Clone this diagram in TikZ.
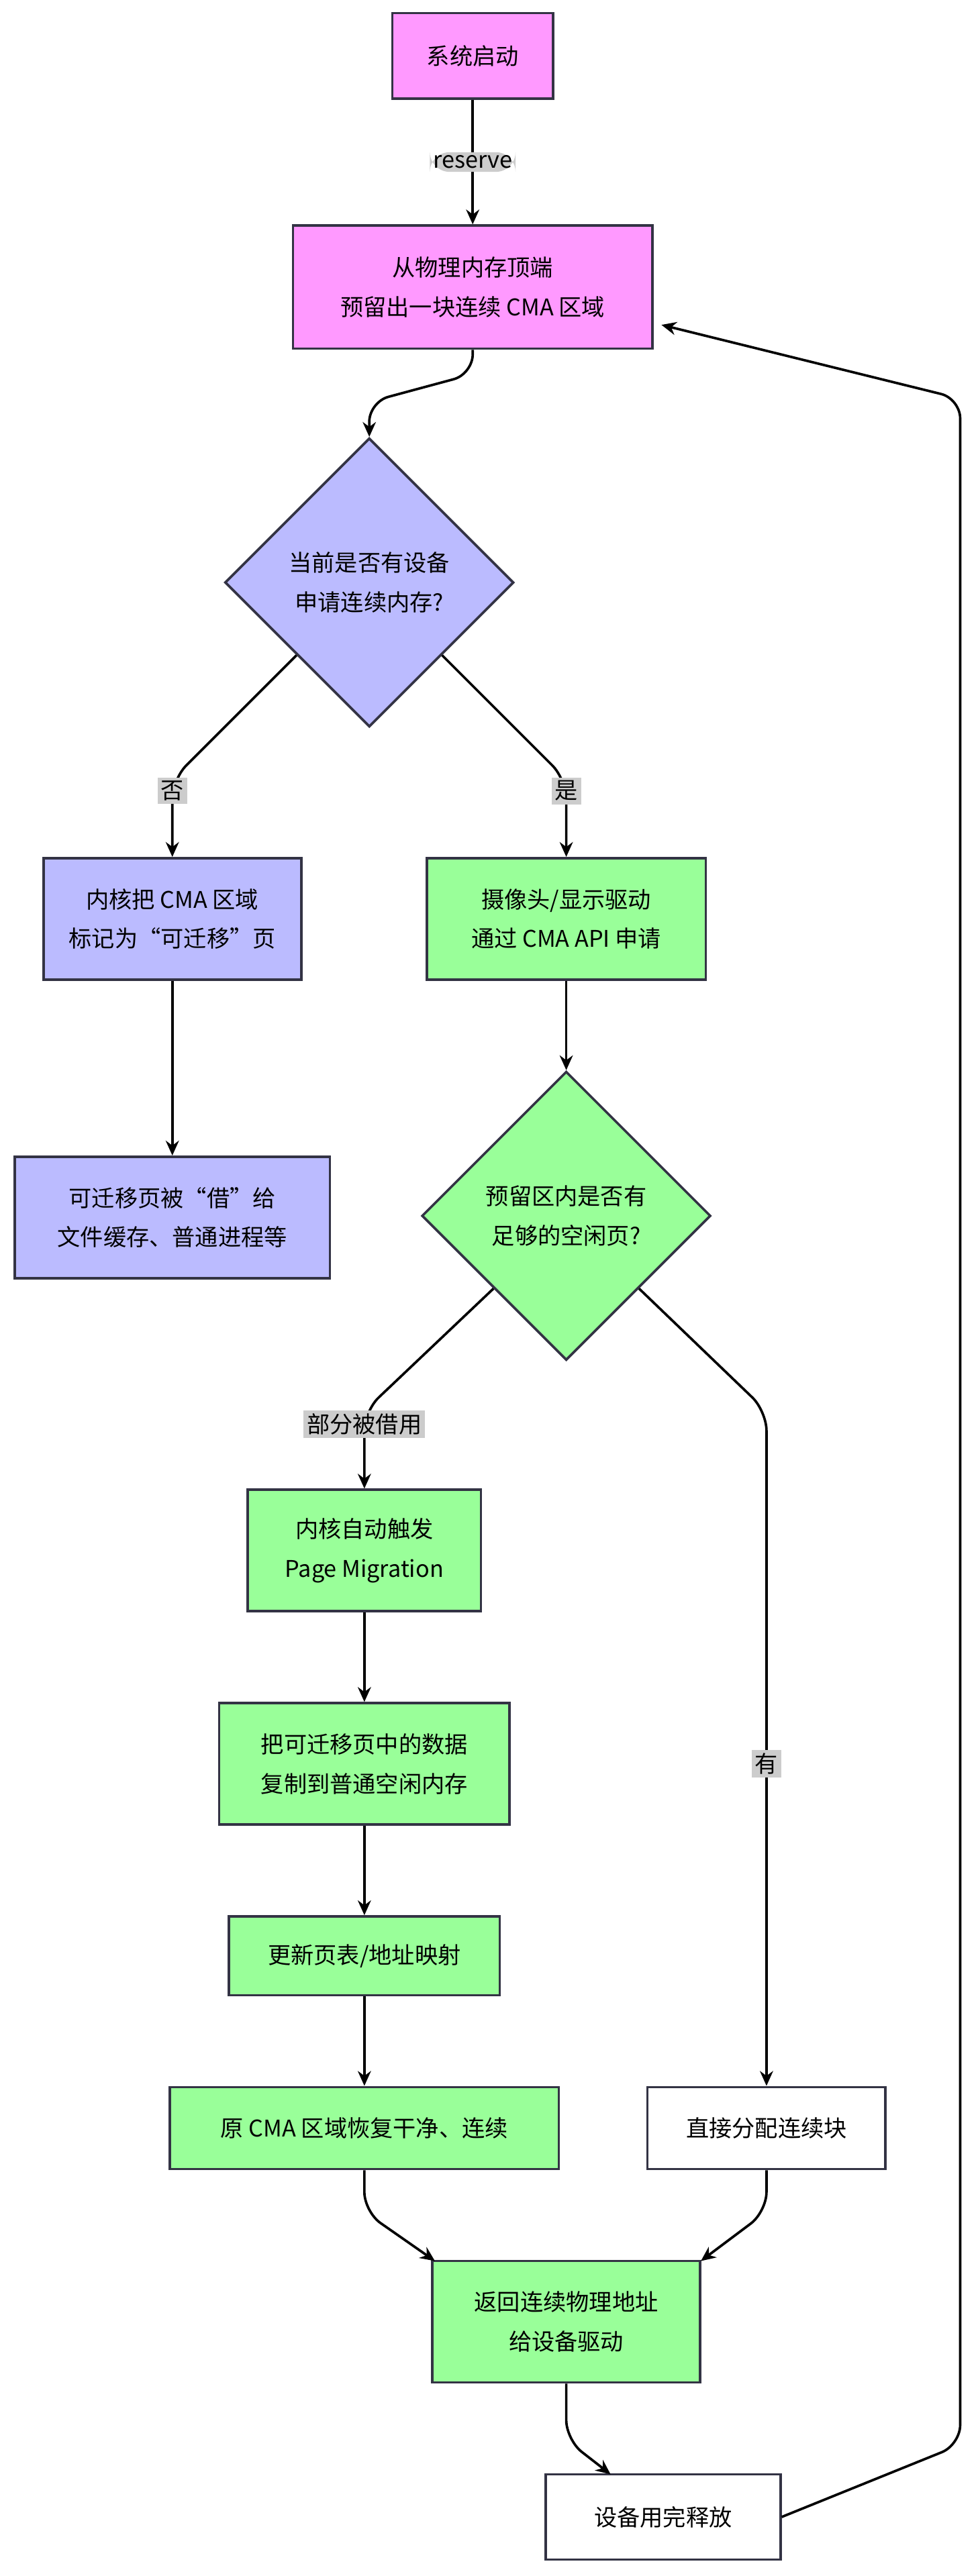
\documentclass[tikz,border=0pt]{standalone}
\usepackage{fontspec}
\setmainfont{Noto Sans CJK SC}
\usetikzlibrary{shapes.geometric,arrows.meta,calc}
\definecolor{pinkfill}{HTML}{FF99FF}
\definecolor{bluefill}{HTML}{BBBBFF}
\definecolor{greenfill}{HTML}{99FF99}
\definecolor{edgegray}{HTML}{333344}
\definecolor{tagfill}{HTML}{CCCCCC}
\tikzset{
  box/.style={draw=edgegray, line width=1.5pt, align=center, font=\fontsize{14}{24}\selectfont, inner sep=0pt},
  dia/.style={box, diamond, minimum width=176pt, minimum height=176pt, aspect=1},
  tag/.style={fill=tagfill, font=\fontsize{14}{16}\selectfont, inner sep=2pt},
  arr/.style={line width=1.5pt, -{Stealth[length=9pt,width=8pt]}, rounded corners=12pt},
}
\begin{document}
\begin{tikzpicture}[x=1pt,y=-1pt]
  \useasboundingbox (0,0) rectangle (597,1570);
  % start and reserve
  \node[box, fill=pinkfill, minimum width=98pt, minimum height=52pt] (start) at (288,34) {系统启动};
  \node[box, fill=pinkfill, minimum width=219pt, minimum height=75pt] (reserve) at (288,175) {从物理内存顶端\\预留出一块连续 CMA 区域};
  \node[dia, fill=bluefill] (ask) at (225,355) {当前是否有设备\\申请连续内存?};

  % left branch
  \node[box, fill=bluefill, minimum width=157pt, minimum height=74pt] (mark) at (105,560) {内核把 CMA 区域\\标记为“可迁移”页};
  \node[box, fill=bluefill, minimum width=192pt, minimum height=74pt] (lend) at (105,742) {可迁移页被“借”给\\文件缓存、普通进程等};

  % right branch
  \node[box, fill=greenfill, minimum width=170pt, minimum height=74pt] (drv) at (345,560) {摄像头/显示驱动\\通过 CMA API 申请};
  \node[dia, fill=greenfill] (free) at (345,741) {预留区内是否有\\足够的空闲页?};
  \node[box, fill=greenfill, minimum width=142pt, minimum height=74pt] (mig) at (222,945) {内核自动触发\\Page Migration};
  \node[box, fill=greenfill, minimum width=177pt, minimum height=74pt] (copy) at (222,1075) {把可迁移页中的数据\\复制到普通空闲内存};
  \node[box, fill=greenfill, minimum width=165pt, minimum height=48pt] (map) at (222,1192) {更新页表/地址映射};
  \node[box, fill=greenfill, minimum width=237pt, minimum height=50pt] (clean) at (222,1297) {原 CMA 区域恢复干净、连续};
  \node[box, fill=white, minimum width=145pt, minimum height=50pt] (direct) at (467,1297) {直接分配连续块};
  \node[box, fill=greenfill, minimum width=163pt, minimum height=74pt] (ret) at (345,1415) {返回连续物理地址\\给设备驱动};
  \node[box, fill=white, minimum width=143pt, minimum height=52pt] (done) at (404,1534) {设备用完释放};

  % connectors
  \draw[arr] (start) -- (reserve) node[tag, midway] (t1) {reserve};
  \draw[arr] (reserve.south) -- (288,228) -- (225,245) -- (ask.north);
  \draw[arr] ($(ask.west)!.5!(ask.south)$) -- (105,475) -- (mark.north);
  \node[tag] (t2) at (105,482) {否};
  \draw[arr] ($(ask.east)!.5!(ask.south)$) -- (345,475) -- (drv.north);
  \node[tag] (t3) at (345,482) {是};
  \draw[arr] (mark) -- (lend);
  \draw[arr] (drv) -- (free);
  \draw[arr] ($(free.west)!.5!(free.south)$) -- (222,860) -- (mig.north);
  \node[tag] (t4) at (222,868) {部分被借用};
  \draw[arr] ($(free.east)!.5!(free.south)$) -- (467,860) -- (direct.north);
  \node[tag] (t5) at (467,1075) {有};
  \draw[arr] (mig) -- (copy);
  \draw[arr] (copy) -- (map);
  \draw[arr] (map) -- (clean);
  \draw[arr] (clean.south) -- (222,1348) -- (265,1378);
  \draw[arr] (direct.south) -- (467,1348) -- (427,1378);
  \draw[arr] (ret.south) -- (345,1487) -- (372,1508);
  \draw[arr] (done.east) -- (585,1490) -- (585,243) -- (403,198);
\end{tikzpicture}
\end{document}
